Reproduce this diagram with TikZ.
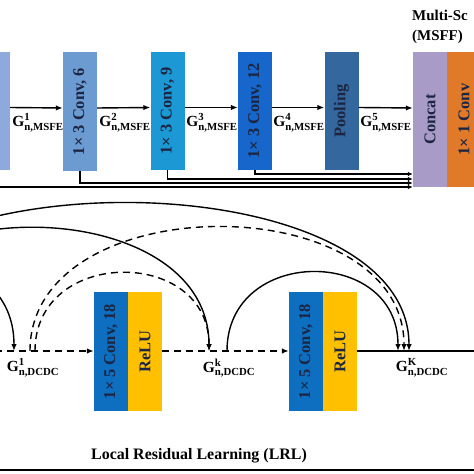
\documentclass[tikz,border=0pt]{standalone}
\usepackage{fontspec}
\usepackage{amsmath}
\usepackage{graphicx}
\setmainfont{Liberation Serif}
\usetikzlibrary{arrows.meta}
\definecolor{cLeft}{RGB}{142,170,220}
\definecolor{cSix}{RGB}{108,155,210}
\definecolor{cNine}{RGB}{28,152,212}
\definecolor{cTwelve}{RGB}{22,102,204}
\definecolor{cPool}{RGB}{52,103,158}
\definecolor{cConcat}{RGB}{168,155,200}
\definecolor{cOne}{RGB}{224,122,40}
\definecolor{cFive}{RGB}{14,110,192}
\definecolor{cRelu}{RGB}{255,192,0}
\definecolor{cInk}{RGB}{28,38,66}
\newcommand{\glab}[2]{$\textbf{G}^{\textbf{#1}}_{\textbf{#2}}$}
\begin{document}
\begin{tikzpicture}[x=1bp,y=-1bp,
  box/.style={draw=none, minimum width=34bp, inner sep=0pt, font=\bfseries\fontsize{16.5}{16.5}\selectfont, text=cInk},
  arr/.style={line width=1.4bp, -{Latex[length=7bp,width=5.5bp]}},
  bus/.style={line width=1.2bp, -{Latex[length=5bp,width=4.5bp]}},
  dsh/.style={dash pattern=on 7bp off 5bp},
  glabel/.style={font=\fontsize{15.5}{15.5}\selectfont, inner sep=0pt},
  title/.style={font=\bfseries\fontsize{15}{15}\selectfont, inner sep=0pt}]
\useasboundingbox (0,0) rectangle (474,474);
\fill[white] (0,0) rectangle (474,474);
\clip (0,0) rectangle (474,474);

% ---- top row (MSFE) ----
\node[box, fill=cLeft,   minimum height=118bp] (b0)  at (-7,111) {};
\node[box, fill=cSix,    minimum height=119bp] (b6)  at (80,111.5) {\rotatebox{90}{1× 3 Conv, 6}};
\node[box, fill=cNine,   minimum height=118bp] (b9)  at (167.5,111) {\rotatebox{90}{1× 3 Conv, 9}};
\node[box, fill=cTwelve, minimum height=118bp] (b12) at (255,111) {\rotatebox{90}{1× 3 Conv, 12}};
\node[box, fill=cPool,   minimum height=118bp] (pool) at (341.5,111) {\rotatebox{90}{Pooling}};
\node[box, fill=cConcat, minimum height=135bp] (cat) at (430,119.5) {\rotatebox{90}{Concat}};
\node[box, fill=cOne,    minimum height=135bp] (one) at (464,119.5) {\rotatebox{90}{1× 1 Conv}};

\draw[arr] ([yshift=3.5bp]b0.east) -- ([yshift=3.5bp]b6.west);
\draw[arr] ([yshift=3.5bp]b6.east) -- ([yshift=3.5bp]b9.west);
\draw[arr] ([yshift=3.5bp]b9.east) -- ([yshift=3.5bp]b12.west);
\draw[arr] ([yshift=3.5bp]b12.east) -- ([yshift=3.5bp]pool.west);
\draw[arr] ([yshift=3.5bp]pool.east) -- ([yshift=11.5bp]cat.west);

\node[glabel] (m1) at (38,123) {\glab{1}{n,MSFE}};
\node[glabel] (m2) at (125,123) {\glab{2}{n,MSFE}};
\node[glabel] (m3) at (212,123) {\glab{3}{n,MSFE}};
\node[glabel] (m4) at (299,123) {\glab{4}{n,MSFE}};
\node[glabel] (m5) at (386,123) {\glab{5}{n,MSFE}};

\draw[bus] (b12.south) |- (cat.west |- 0,174);
\draw[bus] (b9.south) |- (cat.west |- 0,179);
\draw[bus] (b6.south) |- (cat.west |- 0,183);
\draw[bus] (b0.south) |- (cat.west |- 0,187);

\node[title, anchor=west] (msffa) at (412,15) {Multi-Sc};
\node[title, anchor=west] (msffb) at (412,37) {(MSFF)};

% ---- DCDC row ----
\node[box, fill=cFive, minimum height=119bp] (c1) at (111,351.5) {\rotatebox{90}{1× 5 Conv, 18}};
\node[box, fill=cRelu, minimum height=119bp] (r1) at (145,351.5) {\rotatebox{90}{ReLU}};
\node[box, fill=cFive, minimum height=119bp] (c2) at (306,351.5) {\rotatebox{90}{1× 5 Conv, 18}};
\node[box, fill=cRelu, minimum height=119bp] (r2) at (340,351.5) {\rotatebox{90}{ReLU}};

\coordinate (Lin) at (-5,351);
\coordinate (Rout) at (480,351);
\coordinate (Pa) at (-166,351);
\coordinate (Pb) at (-150,351);
\coordinate (Pe) at (-158,351);
\coordinate (G1in) at (14,351);
\coordinate (G1a) at (30,351);
\coordinate (G1b) at (35,351);
\coordinate (Gk) at (209,351);
\coordinate (Gkout) at (227,351);
\coordinate (GKa) at (398,351);
\coordinate (GKb) at (404,351);
\coordinate (GKc) at (409,351);

\draw[arr, dsh] (Lin) -- (c1.west |- Lin);
\draw[arr, dsh] (r1.east |- Lin) -- (c2.west |- Lin);
\draw[line width=1.4bp] (r2.east |- Lin) -- (Rout);

\draw[arr] (Pa) .. controls +(0,-197) and +(0,-197) .. (GKc);
\draw[arr] (Pb) .. controls +(0,-164) and +(0,-164) .. (Gk);
\draw[arr, dsh] (G1a) .. controls +(0,-165) and +(0,-165) .. (GKb);
\draw[arr, dsh] (G1b) .. controls +(0,-104) and +(0,-104) .. (Gk);
\draw[arr] (Pe) .. controls +(0,-115) and +(0,-115) .. (G1in);
\draw[arr] (Gkout) .. controls +(0,-105) and +(0,-105) .. (GKa);

\node[glabel] (l1) at (33,368) {\glab{1}{n,DCDC}};
\node[glabel] (lk) at (229,368) {\glab{k}{n,DCDC}};
\node[glabel] (lK) at (422,368) {\glab{K}{n,DCDC}};

\node[title, font=\bfseries\fontsize{16}{16}\selectfont] (lrl) at (199,456) {Local Residual Learning (LRL)};
\coordinate (sepL) at (0,470);
\coordinate (sepR) at (474,470);
\draw[line width=2bp] (sepL) -- (sepR);
\end{tikzpicture}
\end{document}
